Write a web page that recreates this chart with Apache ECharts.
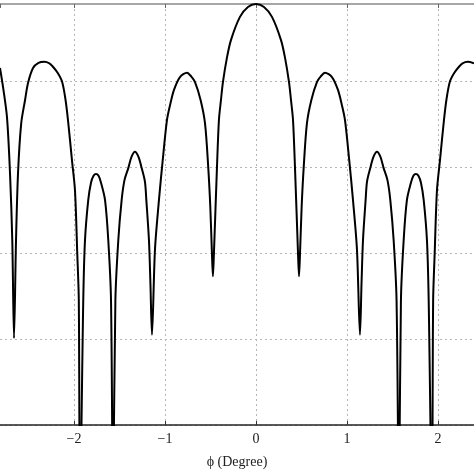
<!DOCTYPE html>
<html>
<head>
<meta charset="utf-8">
<script src="https://cdn.jsdelivr.net/npm/echarts@6/dist/echarts.min.js"></script>
<style>
  html, body { margin: 0; padding: 0; background: #fff; }
  #main { width: 474px; height: 474px; }
</style>
</head>
<body>
<div id="main"></div>
<script>
// angle (degree) and pattern level (dB)
const phi = [
    -2.813, -2.775, -2.736, -2.703, -2.678, -2.659,
    -2.637, -2.615, -2.58, -2.538, -2.505, -2.45, -2.39, -2.326, -2.27, -2.231, -2.18, -2.132, -2.095, -2.066, -2.022, -1.989, -1.964, -1.947, -1.934,
    -1.898, -1.879, -1.843, -1.813, -1.785, -1.758, -1.73, -1.703, -1.659, -1.623, -1.593, -1.571,
    -1.545, -1.513, -1.476, -1.445, -1.403, -1.368, -1.33, -1.291, -1.256, -1.22, -1.205, -1.176, -1.16, -1.143,
    -1.11, -1.066, -1.025, -0.978, -0.945, -0.901, -0.835, -0.758, -0.714, -0.67, -0.608, -0.56, -0.524, -0.502, -0.484, -0.473,
    -0.462, -0.429, -0.407, -0.385, -0.363, -0.32, -0.275, -0.176, -0.088, 0,
    0.088, 0.176, 0.275, 0.32, 0.363, 0.385, 0.407, 0.429, 0.462,
    0.473, 0.484, 0.502, 0.524, 0.56, 0.608, 0.67, 0.714, 0.758, 0.835, 0.901, 0.945, 0.978, 1.025, 1.066, 1.11,
    1.143, 1.16, 1.176, 1.205, 1.22, 1.256, 1.291, 1.33, 1.368, 1.403, 1.445, 1.476, 1.513, 1.545,
    1.571, 1.593, 1.623, 1.659, 1.703, 1.73, 1.758, 1.785, 1.813, 1.843, 1.879, 1.898,
    1.934, 1.947, 1.964, 1.989, 2.022, 2.066, 2.095, 2.132, 2.18, 2.231, 2.27, 2.326, 2.396
];
const gain = [
    -8.45, -11.0, -14.2, -20.7, -28.5, -39.9,
    -28.5, -20.7, -14.9, -12.2, -10.2, -8.45, -7.85, -7.72, -7.9, -8.3, -9.0, -10.0, -12.0, -14.5, -19.2, -22.7, -30.0, -35.5, -60,
    -35.5, -28.5, -23.8, -21.8, -21.0, -20.8, -21.0, -21.8, -23.8, -28.5, -35.5, -60,
    -35.5, -28.5, -23.8, -21.5, -20.1, -18.8, -18.2, -18.8, -20.1, -21.7, -23.8, -28.5, -33.5, -39.5,
    -29.6, -23.8, -19.2, -14.5, -12.8, -11.0, -9.5, -9.0, -9.4, -10.1, -12.2, -14.9, -20.1, -24.6, -30.0, -32.7,
    -30.0, -20.1, -14.5, -12.2, -10.1, -7.3, -5.2, -2.5, -1.35, -1,
    -1.35, -2.5, -5.2, -7.3, -10.1, -12.2, -14.5, -20.1, -30.0,
    -32.7, -30.0, -24.6, -20.1, -14.9, -12.2, -10.1, -9.4, -9.0, -9.5, -11.0, -12.8, -14.5, -19.2, -23.8, -29.6,
    -39.5, -33.5, -28.5, -23.8, -21.7, -20.1, -18.8, -18.2, -18.8, -20.1, -21.5, -23.8, -28.5, -35.5,
    -60, -35.5, -28.5, -23.8, -21.8, -21.0, -20.8, -21.0, -21.8, -23.8, -28.5, -35.5,
    -60, -35.5, -30.0, -22.7, -19.2, -14.5, -12.0, -10.0, -9.0, -8.3, -7.9, -7.72, -7.9
];
const xMin = -2.813;
const xMax = 2.396;

const chart = echarts.init(document.querySelector('#main'));

const serif = '"Liberation Serif", "DejaVu Serif", serif';
const gridDots = { color: '#b5b5b5', type: [2, 3], width: 1 };

let option = {
    animation: false,
    backgroundColor: '#fff',
    grid: { left: 0, right: 0, top: 4, bottom: 49 },
    xAxis: [
        {
            type: 'value',
            min: xMin,
            max: xMax,
            name: 'ϕ (Degree)',
            nameLocation: 'middle',
            nameGap: 30,
            nameTextStyle: { fontFamily: serif, fontSize: 14, color: '#222' },
            axisLine: { show: true, onZero: false, lineStyle: { color: '#222', width: 1.5 } },
            axisTick: { show: true, inside: true, length: 4, lineStyle: { color: '#333' } },
            axisLabel: {
                fontFamily: serif,
                fontSize: 14,
                color: '#222',
                margin: 7,
                showMinLabel: false,
                showMaxLabel: false,
                formatter: (v) => String(v).replace('-', '\u2212')
            },
            splitLine: { show: true, showMinLine: false, showMaxLine: false, lineStyle: gridDots }
        },
        {
            type: 'value',
            position: 'top',
            min: xMin,
            max: xMax,
            axisLine: { show: true, onZero: false, lineStyle: { color: '#888', width: 1.5 } },
            axisTick: { show: true, inside: true, length: 4, lineStyle: { color: '#666' } },
            axisLabel: { show: false },
            splitLine: { show: false }
        }
    ],
    yAxis: {
        type: 'value',
        min: -50,
        max: -1,
        interval: 10,
        axisLine: { show: false },
        axisTick: { show: false },
        axisLabel: { show: false },
        splitLine: { show: true, showMaxLine: false, lineStyle: gridDots }
    },
    series: [
        {
            type: 'line',
            xAxisIndex: 0,
            data: phi.map((p, i) => [p, gain[i]]),
            showSymbol: false,
            smooth: 0.3,
            clip: true,
            lineStyle: { color: '#000', width: 2 }
        }
    ]
};

chart.setOption(option);
</script>
</body>
</html>
